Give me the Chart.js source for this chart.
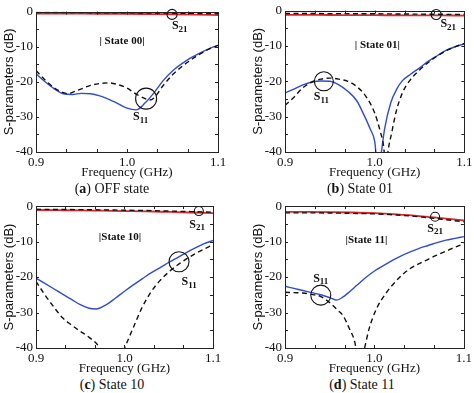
<!DOCTYPE html>
<html>
<head>
<meta charset="utf-8">
<script src="https://cdn.jsdelivr.net/npm/chart.js@4.4.0/dist/chart.umd.min.js"></script>
<style>
  body { margin: 0; background: #fff; width: 474px; height: 393px; position: relative; overflow: hidden; }
  .panel { position: absolute; }
  .cap { position: absolute; width: 140px; text-align: center; font: 14px 'Liberation Serif', serif; color: #111; line-height: 16px; }
  .cap b { font-weight: bold; }
</style>
</head>
<body>
<div class="panel" style="left:0;top:0"><canvas id="chartA" width="237" height="180"></canvas></div>
<div class="panel" style="left:249px;top:0"><canvas id="chartB" width="226" height="180"></canvas></div>
<div class="panel" style="left:0;top:195px"><canvas id="chartC" width="232" height="181"></canvas></div>
<div class="panel" style="left:249px;top:195px"><canvas id="chartD" width="226" height="181"></canvas></div>
<div class="cap" style="left:42px;top:181px">(<b>a</b>) OFF state</div>
<div class="cap" style="left:290px;top:181px">(<b>b</b>) State 01</div>
<div class="cap" style="left:42px;top:377px">(<b>c</b>) State 10</div>
<div class="cap" style="left:292px;top:377px">(<b>d</b>) State 11</div>

<script>
// Axis ticks
const xTicks = [0.9, 1.0, 1.1];
const yTicks = [0, -10, -20, -30, -40];

// S21 curves share one frequency grid
const freqS21 = [0.9, 0.925, 0.95, 0.975, 1.0, 1.025, 1.05, 1.075, 1.1];

// (a) OFF state
const freqA11Solid = [0.9, 0.91, 0.92, 0.93, 0.94, 0.95, 0.96, 0.97, 0.98, 0.99, 1.0, 1.01, 1.02, 1.03, 1.04, 1.05, 1.06, 1.07, 1.08, 1.09, 1.1];
const s11ASolid = [-17.7, -20.0, -22.0, -23.4, -23.6, -23.3, -23.4, -24.0, -25.0, -26.2, -27.5, -28.0, -26.0, -23.0, -19.6, -16.9, -14.9, -13.2, -11.8, -10.6, -9.6];
const freqA11Dash = [0.9, 0.91, 0.92, 0.93, 0.936, 0.94, 0.95, 0.96, 0.97, 0.98, 0.99, 1.0, 1.01, 1.02, 1.025, 1.03, 1.04, 1.05, 1.06, 1.07, 1.08, 1.09, 1.1];
const s11ADash = [-16.8, -19.5, -21.7, -23.1, -23.4, -23.0, -22.0, -21.0, -20.5, -20.3, -20.8, -21.8, -23.5, -24.8, -25.2, -24.5, -21.0, -18.0, -15.7, -13.8, -12.1, -10.7, -9.6];
const s21ASolid = [-0.6, -0.6, -0.6, -0.62, -0.65, -0.7, -0.75, -0.85, -1.0];
const s21ADash = [-0.25, -0.27, -0.3, -0.32, -0.35, -0.4, -0.45, -0.52, -0.6];

// (b) State 01
const freqB11Solid = [0.9, 0.91, 0.92, 0.93, 0.94, 0.95, 0.96, 0.97, 0.98, 0.988, 0.995, 1.0, 1.004, 1.0075, 1.011, 1.018, 1.025, 1.031, 1.04, 1.05, 1.06, 1.07, 1.08, 1.09, 1.1];
const s11BSolid = [-23.3, -22.2, -21.0, -20.2, -19.9, -20.0, -21.0, -22.8, -25.5, -29.5, -33.5, -37.0, -46.0, -40.0, -33.5, -26.0, -22.0, -19.8, -18.0, -16.2, -14.3, -12.7, -11.2, -10.2, -9.4];
const freqB11Dash = [0.9, 0.91, 0.92, 0.93, 0.94, 0.95, 0.96, 0.97, 0.98, 0.99, 1.0, 1.006, 1.01, 1.0125, 1.015, 1.019, 1.024, 1.031, 1.04, 1.05, 1.06, 1.07, 1.08, 1.09, 1.1];
const s11BDash = [-26.8, -24.5, -21.8, -20.2, -19.4, -19.1, -19.4, -20.0, -21.5, -24.2, -29.0, -34.0, -38.5, -45.0, -39.5, -34.5, -28.5, -23.2, -19.5, -16.8, -14.6, -12.8, -11.3, -10.2, -9.3];
const s21BSolid = [-1.2, -1.22, -1.25, -1.27, -1.3, -1.32, -1.35, -1.37, -1.4];
const s21BDash = [-0.8, -0.82, -0.85, -0.87, -0.9, -0.95, -1.0, -1.05, -1.1];

// (c) State 10
const freqC11Solid = [0.9, 0.91, 0.92, 0.93, 0.94, 0.95, 0.96, 0.968, 0.98, 0.99, 1.0, 1.01, 1.02, 1.03, 1.04, 1.05, 1.06, 1.07, 1.08, 1.09, 1.1];
const s11CSolid = [-20.3, -21.8, -23.3, -24.8, -26.3, -27.8, -28.8, -29.0, -27.7, -25.9, -24.0, -22.2, -20.5, -18.8, -17.4, -15.9, -14.5, -13.1, -11.8, -10.6, -9.7];
const freqC11Dash = [0.9, 0.91, 0.92, 0.93, 0.94, 0.95, 0.96, 0.972, 0.985, 1.0, 1.01, 1.02, 1.03, 1.04, 1.05, 1.06, 1.07, 1.08, 1.09, 1.1];
const s11CDash = [-21.2, -25.0, -28.4, -31.5, -33.5, -35.3, -37.0, -40.0, -48.0, -40.0, -34.2, -28.5, -24.2, -21.0, -18.6, -16.6, -14.9, -13.4, -12.1, -10.9];
const s21CSolid = [-1.1, -1.15, -1.2, -1.3, -1.4, -1.5, -1.65, -1.8, -2.0];
const s21CDash = [-0.9, -0.95, -1.0, -1.07, -1.15, -1.25, -1.4, -1.55, -1.7];

// (d) State 11
const freqD11Solid = [0.9, 0.91, 0.92, 0.93, 0.94, 0.95, 0.958, 0.965, 0.97, 0.98, 0.99, 1.0, 1.01, 1.02, 1.03, 1.04, 1.05, 1.06, 1.07, 1.08, 1.09, 1.1];
const s11DSolid = [-22.6, -23.2, -23.8, -24.4, -25.0, -25.8, -26.5, -25.6, -24.6, -22.4, -20.2, -18.3, -16.8, -15.3, -14.0, -12.9, -11.9, -11.1, -10.3, -9.6, -9.1, -8.6];
const freqD11Dash = [0.9, 0.91, 0.92, 0.93, 0.94, 0.95, 0.96, 0.965, 0.972, 0.978, 0.9835, 0.989, 0.994, 1.002, 1.013, 1.02, 1.031, 1.04, 1.05, 1.06, 1.069, 1.08, 1.09, 1.1];
const s11DDash = [-24.3, -24.4, -24.5, -24.9, -25.5, -27.2, -29.6, -30.9, -34.6, -38.3, -46.0, -40.0, -34.6, -29.1, -24.5, -22.3, -19.4, -17.6, -16.2, -15.0, -13.9, -12.7, -11.6, -10.6];
const s21DSolid = [-1.65, -1.65, -1.7, -1.8, -2.0, -2.35, -2.8, -3.4, -4.0];
const s21DDash = [-1.9, -1.9, -1.95, -2.05, -2.2, -2.5, -3.0, -3.7, -4.4];

const BLUE = '#2f4bd3';
const RED = '#e3242b';
const INK = '#111';
const SERIF = "'Liberation Serif', serif";

function pts(xs, ys) {
  return xs.map((x, i) => ({ x: x, y: ys[i] }));
}

// box frame with inward ticks, plus the text notes
const framePlugin = {
  id: 'frame',
  afterDatasetsDraw(chart, args, opts) {
    const { ctx, chartArea: a, scales: { x, y } } = chart;
    ctx.save();
    ctx.strokeStyle = '#222';
    ctx.lineWidth = 1;
    ctx.strokeRect(Math.round(a.left) + 0.5, Math.round(a.top) + 0.5,
      Math.round(a.right - a.left), Math.round(a.bottom - a.top));
    ctx.beginPath();
    for (let i = 1; i < 6; i++) {
      const px = Math.round(x.getPixelForValue(0.9 + i * 0.2 / 6)) + 0.5;
      ctx.moveTo(px, a.bottom); ctx.lineTo(px, a.bottom - 3);
      ctx.moveTo(px, a.top); ctx.lineTo(px, a.top + 3);
    }
    for (let v = -35; v < 0; v += 5) {
      const py = Math.round(y.getPixelForValue(v)) + 0.5;
      ctx.moveTo(a.left, py); ctx.lineTo(a.left + 3, py);
      ctx.moveTo(a.right, py); ctx.lineTo(a.right - 3, py);
    }
    ctx.stroke();

    ctx.fillStyle = INK;
    ctx.textBaseline = 'middle';
    // state label
    ctx.font = 'bold 11px ' + SERIF;
    ctx.textAlign = 'center';
    ctx.fillText(opts.state.text, x.getPixelForValue(opts.state.x), y.getPixelForValue(opts.state.y));
    // S11 / S21 labels with subscripts
    ctx.textAlign = 'left';
    opts.names.forEach(n => {
      ctx.font = 'bold 12px ' + SERIF;
      const w1 = ctx.measureText('S').width;
      ctx.font = 'bold 9px ' + SERIF;
      const w2 = ctx.measureText(n.sub).width;
      const px = x.getPixelForValue(n.x) - (w1 + w2) / 2;
      const py = y.getPixelForValue(n.y);
      ctx.font = 'bold 12px ' + SERIF;
      ctx.fillText('S', px, py);
      ctx.font = 'bold 9px ' + SERIF;
      ctx.fillText(n.sub, px + w1, py + 3.5);
    });
    ctx.restore();
  }
};

function makeChart(id, p) {
  const circleSets = p.circles.map(c => ({
    data: [{ x: c.x, y: c.y }],
    showLine: false,
    pointRadius: c.r,
    pointBorderColor: '#111',
    pointBackgroundColor: 'rgba(0,0,0,0)',
    pointBorderWidth: 1.1,
    clip: false
  }));
  const line = (data, color, width, dash) => ({
    data: data,
    borderColor: color,
    borderWidth: width,
    borderDash: dash || [],
    pointRadius: 0,
    cubicInterpolationMode: 'monotone',
    fill: false
  });
  new Chart(document.getElementById(id), {
    type: 'line',
    data: {
      datasets: [
        ...circleSets,
        line(p.s21Dash, '#111', 1.4, [5, 3.5]),
        line(p.s11Dash, '#111', 1.4, [5, 3.5]),
        line(p.s21Solid, RED, 1.8),
        line(p.s11Solid, BLUE, 1.4)
      ]
    },
    options: {
      responsive: false,
      animation: false,
      layout: { padding: { left: 0, top: p.padTop, right: p.padRight, bottom: 0 } },
      plugins: {
        legend: { display: false },
        tooltip: { enabled: false },
        frame: { state: p.state, names: p.names }
      },
      scales: {
        x: {
          type: 'linear',
          min: 0.9,
          max: 1.1,
          grid: { display: false, drawTicks: false },
          border: { display: false },
          afterBuildTicks: s => { s.ticks = xTicks.map(v => ({ value: v })); },
          afterFit: s => { s.height = 28; s.paddingLeft = 0; s.paddingRight = 0; },
          ticks: {
            autoSkip: false,
            maxRotation: 0,
            padding: 3,
            color: INK,
            font: { family: SERIF, size: 13 },
            callback: v => v.toFixed(1)
          },
          title: {
            display: true,
            text: 'Frequency (GHz)',
            color: INK,
            padding: 0,
            font: { family: SERIF, size: 13 }
          }
        },
        y: {
          min: -40,
          max: 0,
          grid: { display: false, drawTicks: false },
          border: { display: false },
          afterBuildTicks: s => { s.ticks = yTicks.map(v => ({ value: v })); },
          afterFit: s => { s.width = 36; s.paddingTop = 0; s.paddingBottom = 0; },
          ticks: {
            padding: 3,
            color: INK,
            font: { family: SERIF, size: 13 },
            callback: v => String(v)
          },
          title: {
            display: true,
            text: 'S-parameters (dB)',
            color: INK,
            padding: { top: 2, bottom: 0 },
            font: { family: "'Liberation Sans', sans-serif", size: 13 }
          }
        }
      }
    },
    plugins: [framePlugin]
  });
}

makeChart('chartA', {
  padTop: 7, padRight: 19,
  s11Solid: pts(freqA11Solid, s11ASolid), s11Dash: pts(freqA11Dash, s11ADash),
  s21Solid: pts(freqS21, s21ASolid), s21Dash: pts(freqS21, s21ADash),
  circles: [{ x: 1.0495, y: -0.8, r: 5 }, { x: 1.021, y: -24.8, r: 10.5 }],
  names: [{ x: 1.058, y: -4.1, sub: '21' }, { x: 1.015, y: -30.1, sub: '11' }],
  state: { x: 0.9945, y: -8.3, text: '| State 00|' }
});

makeChart('chartB', {
  padTop: 8, padRight: 10,
  s11Solid: pts(freqB11Solid, s11BSolid), s11Dash: pts(freqB11Dash, s11BDash),
  s21Solid: pts(freqS21, s21BSolid), s21Dash: pts(freqS21, s21BDash),
  circles: [{ x: 1.0685, y: -1.1, r: 5 }, { x: 0.9433, y: -20, r: 9.5 }],
  names: [{ x: 1.082, y: -3.9, sub: '21' }, { x: 0.9405, y: -24.4, sub: '11' }],
  state: { x: 1.003, y: -9.7, text: '| State 01|' }
});

makeChart('chartC', {
  padTop: 8, padRight: 19,
  s11Solid: pts(freqC11Solid, s11CSolid), s11Dash: pts(freqC11Dash, s11CDash),
  s21Solid: pts(freqS21, s21CSolid), s21Dash: pts(freqS21, s21CDash),
  circles: [{ x: 1.084, y: -1.4, r: 4.5 }, { x: 1.0616, y: -15.7, r: 10 }],
  names: [{ x: 1.082, y: -5.2, sub: '21' }, { x: 1.073, y: -21.5, sub: '11' }],
  state: { x: 0.995, y: -8.8, text: '|State 10|' }
});

makeChart('chartD', {
  padTop: 8, padRight: 10,
  s11Solid: pts(freqD11Solid, s11DSolid), s11Dash: pts(freqD11Dash, s11DDash),
  s21Solid: pts(freqS21, s21DSolid), s21Dash: pts(freqS21, s21DDash),
  circles: [{ x: 1.0678, y: -3.0, r: 4.5 }, { x: 0.94, y: -25.1, r: 10 }],
  names: [{ x: 1.0678, y: -6.3, sub: '21' }, { x: 0.94, y: -20.4, sub: '11' }],
  state: { x: 0.991, y: -9.7, text: '|State 11|' }
});
</script>
</body>
</html>
